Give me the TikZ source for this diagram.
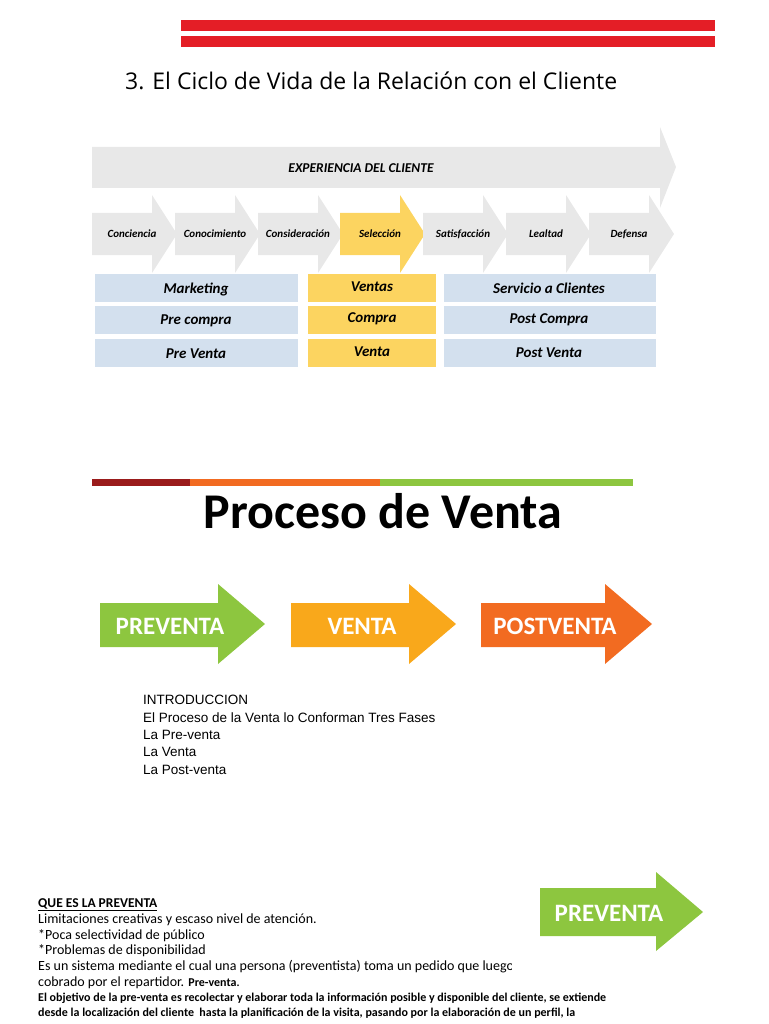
\documentclass[tikz,border=0pt]{standalone}
\usepackage{fontspec}
\setmainfont{Carlito}
\newfontfamily\arialf{Liberation Sans}
\newfontfamily\openf{Open Sans}
\definecolor{gry}{HTML}{E8E8E8}
\definecolor{yel}{HTML}{FCD460}
\definecolor{blu}{HTML}{D3E0EE}
\definecolor{grn}{HTML}{8DC63F}
\definecolor{org}{HTML}{F9A81B}
\definecolor{dorg}{HTML}{F26B21}
\definecolor{dred}{HTML}{9A1B1B}
\definecolor{brd}{HTML}{E41E26}
\begin{document}
\begin{tikzpicture}[x=1pt,y=-1pt,
  chev/.style={fill=gry},
  chevtxt/.style={font=\fontsize{11}{12}\selectfont\bfseries\itshape},
  boxb/.style={fill=blu},
  boxy/.style={fill=yel},
  boxtxt/.style={font=\fontsize{15}{16}\selectfont\bfseries\itshape},
  bigtxt/.style={font=\fontsize{25}{28}\selectfont\bfseries, text=white},
  body/.style={anchor=west, inner sep=0pt, font=\fontsize{14}{16}\selectfont}]
\useasboundingbox (0,0) rectangle (768,1024);
\fill[brd] (181,20) rectangle (715,31);
\fill[brd] (181,36) rectangle (715,47);
\node[anchor=west, inner sep=0pt, font=\openf\fontsize{23}{26}\selectfont] (title) at (125,81) {3. El Ciclo de Vida de la Relación con el Cliente};
% big arrow
\fill[chev] (92,147) -- (660,147) -- (660,127) -- (676,167) -- (660,208) -- (660,188) -- (92,188) -- cycle;
\node[font=\fontsize{13.5}{15}\selectfont\bfseries\itshape] (exp) at (361,168) {EXPERIENCIA DEL CLIENTE};
% chevrons
\foreach \x/\t/\c [count=\i] in {92/Conciencia/gry,175/Conocimiento/gry,258/Consideración/gry,340/Selección/yel,423/Satisfacción/gry,506/Lealtad/gry,589/Defensa/gry}{
  \fill[fill=\c] (\x,213) -- (\x+60,213) -- (\x+60,195) -- (\x+85,234) -- (\x+60,273) -- (\x+60,255) -- (\x,255) -- cycle;
  \node[chevtxt] (c\i) at (\x+40,234) {\t};
}
% boxes
\foreach \y/\a/\b/\cc [count=\i] in {274/Marketing/Ventas/Servicio a Clientes,306/Pre compra/Compra/Post Compra,339/Pre Venta/Venta/Post Venta}{
  \fill[boxb] (95,\y) rectangle (298,\y+28);
  \node[boxtxt] (l\i) at (196,\y+15) {\a};
  \fill[boxy] (308,\y) rectangle (436,\y+28);
  \node[boxtxt] (m\i) at (372,\y+13) {\b};
  \fill[boxb] (444,\y) rectangle (656,\y+28);
  \node[boxtxt] (r\i) at (549,\y+14) {\cc};
}
% section 2
\fill[dred] (92,479) rectangle (190,486);
\fill[dorg] (190,479) rectangle (380,486);
\fill[grn] (380,479) rectangle (633,486);
\node[font=\fontsize{50}{54}\selectfont\bfseries] (pv) at (383,511) {Proceso de Venta};
\fill[grn] (100,603) -- (218,603) -- (218,584) -- (265,624) -- (218,664) -- (218,647) -- (100,647) -- cycle;
\node[bigtxt] (a1) at (170,626) {PREVENTA};
\fill[org] (291,603) -- (409,603) -- (409,584) -- (456,624) -- (409,664) -- (409,647) -- (291,647) -- cycle;
\node[bigtxt] (a2) at (362,626) {VENTA};
\fill[dorg] (481,603) -- (605,603) -- (605,584) -- (652,624) -- (605,664) -- (605,647) -- (481,647) -- cycle;
\node[bigtxt] (a3) at (555,626) {POSTVENTA};
\foreach \y/\t [count=\i] in {700/INTRODUCCION,718/El Proceso de la Venta lo Conforman Tres Fases,735/La Pre-venta,752/La Venta,770/La Post-venta}
  \node[anchor=west, inner sep=0pt, font=\arialf\fontsize{13.5}{15}\selectfont] (t\i) at (143,\y) {\t};
% bottom arrow
\fill[grn] (540,888) -- (656,888) -- (656,872) -- (703,912) -- (656,951) -- (656,936) -- (540,936) -- cycle;
\node[bigtxt] (a4) at (609,913) {PREVENTA};
\node[body,font=\fontsize{13.5}{15}\selectfont\bfseries] (q1) at (38,905) {\underline{QUE ES LA PREVENTA}};
\node[body] (q2) at (38,920) {Limitaciones creativas y escaso nivel de atención.};
\node[body] (q3) at (38,936) {*Poca selectividad de público};
\node[body] (q4) at (38,951) {*Problemas de disponibilidad};
\begin{scope}
\clip (0,955) rectangle (511,975);
\node[body] (q5) at (38,967) {Es un sistema mediante el cual una persona (preventista) toma un pedido que luego es};
\end{scope}
\node[body] (q6) at (38,983) {cobrado por el repartidor. {\fontsize{12}{13}\selectfont\bfseries Pre-venta}.};
\node[body,font=\fontsize{12}{13}\selectfont\bfseries] (q7) at (38,998) {El objetivo de la pre-venta es recolectar y elaborar toda la información posible y disponible del cliente, se extiende};
\node[body,font=\fontsize{12}{13}\selectfont\bfseries] (q8) at (38,1013) {desde la localización del cliente\ \ hasta la planificación de la visita, pasando por la elaboración de un perfil, la};
\end{tikzpicture}
\end{document}
